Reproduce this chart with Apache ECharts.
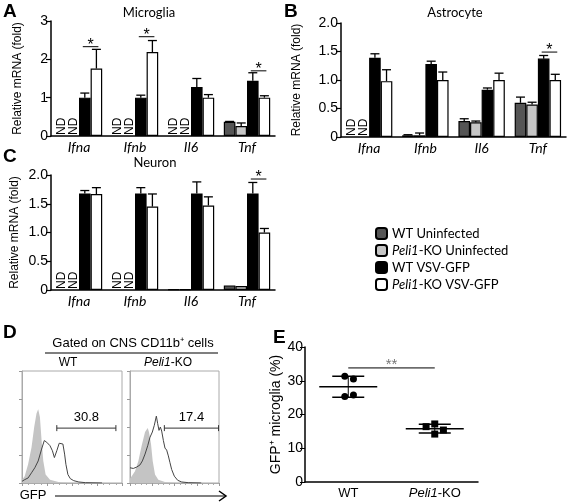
<!DOCTYPE html>
<html>
<head>
<meta charset="utf-8">
<script src="https://cdn.jsdelivr.net/npm/echarts@6/dist/echarts.min.js"></script>
<style>
html, body { margin: 0; padding: 0; background: #fff; }
#chart { width: 567px; height: 502px; }
</style>
</head>
<body>
<div id="chart"></div>
<script>
// 基因分类和分组
const genes = ['Ifna', 'Ifnb', 'Il6', 'Tnf'];
const groups = ['WT Uninfected', 'Peli1-KO Uninfected', 'WT VSV-GFP', 'Peli1-KO VSV-GFP'];
const groupColors = ['#555555', '#c6c6c6', '#000000', '#ffffff'];

// A: Microglia (null = ND)
const aWtUninf = [null, null, null, 0.37];
const aKoUninf = [null, null, null, 0.26];
const aWtVsv = [1.0, 1.0, 1.28, 1.44];
const aKoVsv = [1.76, 2.19, 1.0, 1.0];
const aWtUninfErr = [null, null, null, 0.38];
const aKoUninfErr = [null, null, null, 0.34];
const aWtVsvErr = [1.12, 1.065, 1.5, 1.65];
const aKoVsvErr = [2.26, 2.49, 1.08, 1.05];
const aSig = [[0, 2.33], [1, 2.59], [3, 1.7]];

// B: Astrocyte
const bWtUninf = [null, 0.03, 0.28, 0.6];
const bKoUninf = [null, 0.03, 0.26, 0.57];
const bWtVsv = [1.39, 1.28, 0.83, 1.375];
const bKoVsv = [0.98, 1.0, 1.0, 1.0];
const bWtUninfErr = [null, 0.04, 0.32, 0.7];
const bKoUninfErr = [null, 0.07, 0.28, 0.61];
const bWtVsvErr = [1.46, 1.33, 0.86, 1.43];
const bKoVsvErr = [1.18, 1.14, 1.12, 1.1];
const bSig = [[3, 1.49]];

// C: Neuron
const cWtUninf = [null, null, 0.01, 0.08];
const cKoUninf = [null, null, 0.01, 0.07];
const cWtVsv = [1.68, 1.68, 1.68, 1.68];
const cKoVsv = [1.67, 1.45, 1.47, 1.0];
const cWtUninfErr = [null, null, null, null];
const cKoUninfErr = [null, null, null, null];
const cWtVsvErr = [1.73, 1.78, 1.88, 1.87];
const cKoVsvErr = [1.78, 1.67, 1.62, 1.07];
const cSig = [[3, 1.93]];

// D: flow histograms [GFP, count %]
const dWtCtrl = [[0, 3], [2.7, 6], [6.1, 16.7], [9.5, 31.8], [12.2, 50], [14.5, 62], [16.2, 65.8], [17.9, 59], [19.6, 38], [21.3, 19.7], [23.6, 7.6], [28, 3], [36.5, 1], [46.6, 0.3], [100, 0]];
const dWtInf = [[0, 1.5], [2.7, 3], [6.1, 4.5], [9.5, 9.1], [12.8, 13.6], [16.2, 19.7], [19.6, 30.3], [22.3, 37.9], [24.7, 36.4], [26.4, 37.3], [28, 33.3], [30.4, 28.8], [32.4, 22.7], [34.8, 28.8], [37.2, 35.5], [39.2, 36.4], [40.9, 34.8], [42.6, 25.8], [43.9, 16.7], [45.9, 7.6], [48.3, 3.9], [51.7, 2.1], [56.8, 0.9], [63.5, 0.3], [80, 0]];
const dKoCtrl = [[0, 4], [1.9, 6], [5.6, 10.6], [9.4, 19.7], [13.1, 33.3], [16.9, 45.5], [19.9, 49.1], [21.3, 45.5], [23.6, 34.8], [25.5, 19.7], [28.1, 7.6], [31.8, 3], [39.3, 0.9], [50.6, 0.3], [100, 0]];
const dKoInf = [[0, 13.6], [3.7, 13], [7.5, 14.2], [11.2, 16.1], [13.9, 19.7], [16.9, 25.8], [19.9, 33.3], [22.5, 40.9], [25.1, 45.5], [27.3, 51.5], [29.6, 59.7], [31.1, 53], [32.6, 47], [34.1, 50], [35.6, 46.4], [37.5, 37.9], [39.3, 31.2], [41.2, 29.4], [43.1, 24.2], [44.9, 18.2], [46.8, 12.1], [49.8, 6.1], [53.6, 2.4], [58.1, 0.9], [65.5, 0.3], [80, 0]];
const dWtGate = [34.8, 93.9, 49];
const dKoGate = [38.6, 99.5, 49];
const dWtPct = '30.8';
const dKoPct = '17.4';

// E: GFP+ microglia (%)
const eGroups = ['WT', 'Peli1-KO'];
const eWtX = [0.96, 1.06, 0.96, 1.06];
const eWtY = [31.3, 30.5, 25.3, 25.8];
const eKoX = [1.9, 2.0, 2.1, 2.0];
const eKoY = [16.4, 17.2, 15.4, 14.2];
const eSigY = 33.8;

const BW = 11.6;
const AX = '#000';
const sans = 'Liberation Sans';
const hum = 'Lato';

const mean = a => a.reduce((s, v) => s + v, 0) / a.length;
const sd = a => { const m = mean(a); return Math.sqrt(a.reduce((s, v) => s + (v - m) * (v - m), 0) / (a.length - 1)); };

// 柱状图面板
const barPanel = (gi, vals, errs, sig) => {
  const list = [];
  vals.forEach((v, s) => {
    list.push({
      name: groups[s], type: 'bar', xAxisIndex: gi, yAxisIndex: gi,
      barWidth: BW, barGap: '0%', data: v,
      itemStyle: { color: groupColors[s], borderColor: '#000', borderWidth: 1.2 }
    });
  });
  const errData = [];
  const ndData = [];
  vals.forEach((v, s) => v.forEach((x, c) => {
    if (x == null) ndData.push([c, s]);
    else if (errs[s][c] != null) errData.push([c, s, x, errs[s][c]]);
  }));
  list.push({
    type: 'custom', xAxisIndex: gi, yAxisIndex: gi, z: 5, data: errData,
    encode: { x: 0, y: 3 },
    renderItem: (p, api) => {
      const c = api.value(0), s = api.value(1);
      const b = api.coord([c, api.value(2)]);
      const t = api.coord([c, api.value(3)]);
      const x = b[0] + (s - 1.5) * BW;
      return { type: 'group', children: [
        { type: 'line', shape: { x1: x, y1: b[1], x2: x, y2: t[1] }, style: { stroke: '#000', lineWidth: 1.3 } },
        { type: 'line', shape: { x1: x - 4.5, y1: t[1], x2: x + 4.5, y2: t[1] }, style: { stroke: '#000', lineWidth: 1.3 } }
      ] };
    }
  });
  list.push({
    type: 'custom', xAxisIndex: gi, yAxisIndex: gi, z: 5, data: ndData,
    encode: { x: 0 },
    renderItem: (p, api) => {
      const c = api.value(0), s = api.value(1);
      const b = api.coord([c, 0]);
      return { type: 'text', x: b[0] + (s - 1.5) * BW, y: b[1] - 1, rotation: Math.PI / 2,
        style: { text: 'ND', fontFamily: sans, fontSize: 12, fill: '#000', align: 'left', verticalAlign: 'middle' } };
    }
  });
  list.push({
    type: 'custom', xAxisIndex: gi, yAxisIndex: gi, z: 5, data: sig,
    encode: { x: 0, y: 1 },
    renderItem: (p, api) => {
      const b = api.coord([api.value(0), api.value(1)]);
      const x1 = b[0] + 0.5 * BW - 2, x2 = b[0] + 1.5 * BW + 2;
      return { type: 'group', children: [
        { type: 'line', shape: { x1, y1: b[1], x2, y2: b[1] }, style: { stroke: '#000', lineWidth: 1 } },
        { type: 'text', x: (x1 + x2) / 2, y: b[1] - 1, style: { text: '*', fontFamily: sans, fontSize: 16, fill: '#000', align: 'center', verticalAlign: 'middle' } }
      ] };
    }
  });
  return list;
};

const barX = gi => ({
  type: 'category', gridIndex: gi, data: genes,
  axisLine: { lineStyle: { color: AX, width: 1.5 } },
  axisTick: { alignWithLabel: true, length: 4, lineStyle: { color: AX, width: 1.2 } },
  axisLabel: { fontFamily: hum, fontStyle: 'italic', fontSize: 14, color: '#000', margin: 4, interval: 0 }
});
const barY = (gi, max, step, gap) => ({
  type: 'value', gridIndex: gi, min: 0, max: max, interval: step,
  name: 'Relative mRNA (fold)', nameLocation: 'middle', nameGap: gap,
  nameTextStyle: { fontFamily: sans, fontSize: 12, color: '#000' },
  axisLine: { show: true, lineStyle: { color: AX, width: 1.5 } },
  axisTick: { show: true, length: 5, lineStyle: { color: AX, width: 1.2 } },
  splitLine: { show: false },
  axisLabel: { fontFamily: sans, fontSize: 14, color: '#000', margin: 3,
    formatter: v => (v === 0 || step === 1) ? String(v) : v.toFixed(1) }
});
const flowX = gi => ({
  type: 'value', gridIndex: gi, min: 0, max: 100, interval: 25,
  axisLine: { lineStyle: { color: '#aaa' } },
  axisTick: { show: true, length: 3, lineStyle: { color: '#999' } },
  minorTick: { show: true, splitNumber: 4, length: 2, lineStyle: { color: '#aaa' } },
  axisLabel: { show: false }, splitLine: { show: false }
});
const flowY = gi => ({
  type: 'value', gridIndex: gi, min: 0, max: 100, interval: 25,
  axisLine: { show: true, lineStyle: { color: '#aaa' } },
  axisTick: { show: true, length: 3, lineStyle: { color: '#999' } },
  axisLabel: { show: false }, splitLine: { show: false }
});
const flowSeries = (gi, ctrl, inf, gate, pct) => [
  { type: 'line', xAxisIndex: gi, yAxisIndex: gi, data: ctrl, showSymbol: false, silent: true,
    lineStyle: { width: 0 }, areaStyle: { color: '#c4c4c4', opacity: 1 } },
  { type: 'line', xAxisIndex: gi, yAxisIndex: gi, data: inf, showSymbol: false, silent: true,
    lineStyle: { width: 1, color: '#444' } },
  { type: 'custom', xAxisIndex: gi, yAxisIndex: gi, data: [gate],
    renderItem: (p, api) => {
      const a = api.coord([api.value(0), api.value(2)]);
      const b = api.coord([api.value(1), api.value(2)]);
      const ln = { stroke: '#333', lineWidth: 1 };
      return { type: 'group', children: [
        { type: 'line', shape: { x1: a[0], y1: a[1], x2: b[0], y2: b[1] }, style: ln },
        { type: 'line', shape: { x1: a[0], y1: a[1] - 3, x2: a[0], y2: a[1] + 3 }, style: ln },
        { type: 'line', shape: { x1: b[0], y1: b[1] - 3, x2: b[0], y2: b[1] + 3 }, style: ln },
        { type: 'text', x: (a[0] + b[0]) / 2, y: a[1] - 4, style: { text: pct, fontFamily: sans, fontSize: 13, fill: '#000', align: 'center', verticalAlign: 'bottom' } }
      ] };
    } }
];

const chart = echarts.init(document.getElementById('chart'));
const letter = (t, x, y) => ({ type: 'text', x, y, style: { text: t, fontFamily: sans, fontWeight: 'bold', fontSize: 19, fill: '#000' } });
const label = (t, x, y, size, fam) => ({ type: 'text', x, y, style: { text: t, fontFamily: fam || hum, fontSize: size || 13, fill: '#000', align: 'center', verticalAlign: 'middle',
  rich: { i: { fontStyle: 'italic', fontFamily: fam || hum, fontSize: size || 13 } } } });

const option = {
  animation: false,
  backgroundColor: '#fff',
  legend: {
    orient: 'vertical', left: 370, top: 222, itemWidth: 11, itemHeight: 11, itemGap: 4,
    data: groups, selectedMode: false,
    formatter: n => n.replace('Peli1', '{i|Peli1}'),
    textStyle: { fontFamily: hum, fontSize: 13, color: '#000',
      rich: { i: { fontStyle: 'italic', fontFamily: hum, fontSize: 13 } } }
  },
  grid: [
    { left: 51, top: 21, width: 224, height: 115 },
    { left: 341, top: 23, width: 225, height: 114 },
    { left: 51, top: 175, width: 224, height: 115 },
    { left: 22, top: 371, width: 100, height: 112, show: true, borderColor: '#aaa', borderWidth: 1 },
    { left: 130, top: 371, width: 89, height: 112, show: true, borderColor: '#aaa', borderWidth: 1 },
    { left: 305, top: 347, width: 173, height: 135 }
  ],
  xAxis: [
    barX(0), barX(1), barX(2), flowX(3), flowX(4),
    { type: 'category', gridIndex: 5, data: eGroups,
      axisLine: { lineStyle: { color: AX, width: 1.5 } },
      axisTick: { alignWithLabel: true, length: 4, lineStyle: { color: AX } },
      axisLabel: { fontFamily: sans, fontSize: 13, color: '#000', margin: 5, interval: 0,
        formatter: v => v.replace('Peli1', '{i|Peli1}'),
        rich: { i: { fontStyle: 'italic', fontFamily: sans, fontSize: 13 } } } },
    { type: 'value', gridIndex: 5, min: 0.5, max: 2.5, show: false }
  ],
  yAxis: [
    barY(0, 3, 1, 27), barY(1, 2, 0.5, 38), barY(2, 2, 0.5, 30), flowY(3), flowY(4),
    { type: 'value', gridIndex: 5, min: 0, max: 40, interval: 10,
      name: 'GFP⁺ microglia (%)', nameLocation: 'middle', nameGap: 22,
      nameTextStyle: { fontFamily: sans, fontSize: 14, color: '#000' },
      axisLine: { show: true, lineStyle: { color: AX, width: 1.5 } },
      axisTick: { show: true, length: 5, lineStyle: { color: AX } },
      splitLine: { show: false },
      axisLabel: { fontFamily: sans, fontSize: 14, color: '#000', margin: 2 } }
  ],
  series: [
    ...barPanel(0, [aWtUninf, aKoUninf, aWtVsv, aKoVsv], [aWtUninfErr, aKoUninfErr, aWtVsvErr, aKoVsvErr], aSig),
    ...barPanel(1, [bWtUninf, bKoUninf, bWtVsv, bKoVsv], [bWtUninfErr, bKoUninfErr, bWtVsvErr, bKoVsvErr], bSig),
    ...barPanel(2, [cWtUninf, cKoUninf, cWtVsv, cKoVsv], [cWtUninfErr, cKoUninfErr, cWtVsvErr, cKoVsvErr], cSig),
    ...flowSeries(3, dWtCtrl, dWtInf, dWtGate, dWtPct),
    ...flowSeries(4, dKoCtrl, dKoInf, dKoGate, dKoPct),
    { type: 'custom', xAxisIndex: 6, yAxisIndex: 5, z: 3,
      data: [[1, mean(eWtY), sd(eWtY)], [2, mean(eKoY), sd(eKoY)]],
      renderItem: (p, api) => {
        const x = api.value(0), m = api.value(1), s = api.value(2);
        const pm = api.coord([x, m]), pt = api.coord([x, m + s]), pb = api.coord([x, m - s]);
        const st = { stroke: '#000', lineWidth: 1.5 };
        return { type: 'group', children: [
          { type: 'line', shape: { x1: pm[0] - 29, y1: pm[1], x2: pm[0] + 29, y2: pm[1] }, style: st },
          { type: 'line', shape: { x1: pt[0], y1: pt[1], x2: pb[0], y2: pb[1] }, style: { stroke: '#000', lineWidth: 1 } },
          { type: 'line', shape: { x1: pt[0] - 16, y1: pt[1], x2: pt[0] + 16, y2: pt[1] }, style: st },
          { type: 'line', shape: { x1: pb[0] - 16, y1: pb[1], x2: pb[0] + 16, y2: pb[1] }, style: st }
        ] };
      } },
    { type: 'scatter', xAxisIndex: 6, yAxisIndex: 5, z: 4, symbol: 'circle', symbolSize: 7,
      itemStyle: { color: '#000', opacity: 1 }, data: eWtX.map((x, i) => [x, eWtY[i]]) },
    { type: 'scatter', xAxisIndex: 6, yAxisIndex: 5, z: 4, symbol: 'rect', symbolSize: 7,
      itemStyle: { color: '#000', opacity: 1 }, data: eKoX.map((x, i) => [x, eKoY[i]]) },
    { type: 'custom', xAxisIndex: 6, yAxisIndex: 5, data: [[1, 2, eSigY]],
      renderItem: (p, api) => {
        const a = api.coord([api.value(0), api.value(2)]);
        const b = api.coord([api.value(1), api.value(2)]);
        return { type: 'group', children: [
          { type: 'line', shape: { x1: a[0], y1: a[1], x2: b[0], y2: b[1] }, style: { stroke: '#000', lineWidth: 1 } },
          { type: 'text', x: (a[0] + b[0]) / 2, y: a[1] - 3, style: { text: '**', fontFamily: sans, fontSize: 15, fill: '#777', align: 'center', verticalAlign: 'middle' } }
        ] };
      } }
  ],
  graphic: [
    letter('A', 3, 2), letter('B', 284, 2), letter('C', 3, 147), letter('D', 3, 323), letter('E', 273, 328),
    label('Microglia', 149, 13), label('Astrocyte', 455, 13), label('Neuron', 155, 163),
    label('Gated on CNS CD11b⁺ cells', 133, 343, 13, sans),
    { type: 'line', shape: { x1: 45, y1: 353, x2: 218, y2: 353 }, style: { stroke: '#000', lineWidth: 1.2 } },
    label('WT', 68, 363, 12, sans),
    label('{i|Peli1}-KO', 168, 363, 12, sans),
    label('GFP', 33, 495, 13, sans),
    { type: 'line', shape: { x1: 55, y1: 496, x2: 226, y2: 496 }, style: { stroke: '#000', lineWidth: 1.2 } },
    { type: 'polyline', shape: { points: [[219, 491], [226, 496], [219, 501]] }, style: { stroke: '#000', lineWidth: 1.5, fill: null } }
  ]
};

chart.setOption(option);
window.addEventListener('resize', () => chart.resize());
</script>
</body>
</html>
